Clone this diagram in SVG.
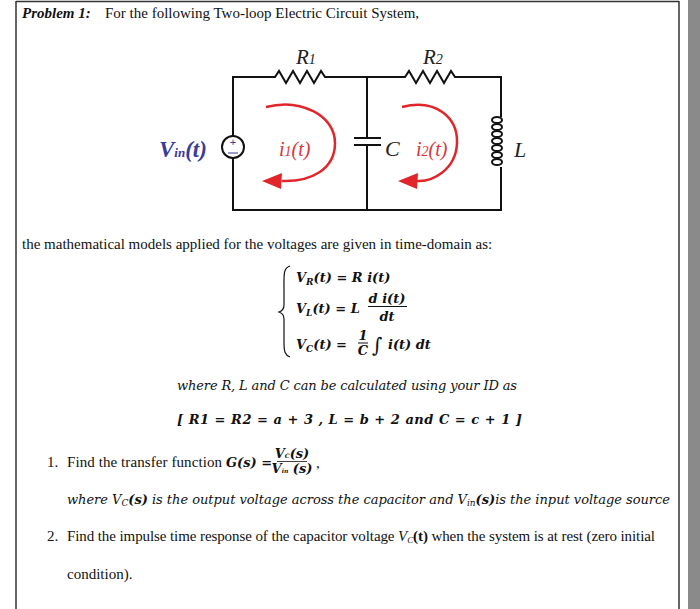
<svg xmlns="http://www.w3.org/2000/svg" width="700" height="609" viewBox="0 0 700 609">
<style>
.t{font-family:"Liberation Serif",serif;font-size:15px;fill:#111}
.m{font-family:"DejaVu Serif",serif;font-weight:bold;font-style:italic;font-size:13px;fill:#111}
.w{stroke:#111;stroke-width:2;fill:none}
.lab{font-family:"Liberation Serif",serif;font-style:italic;fill:#222}
.red{stroke:#e0262a;stroke-width:2.5;fill:none}
</style>
<rect x="0" y="0" width="700" height="609" fill="#fff"/>
<path d="M16 1.5H679M16 1V609M679 1V609" stroke="#333" stroke-width="1.5" fill="none"/>
<rect x="688" y="0" width="12" height="609" fill="#8a8a8a"/>
<text x="22" y="18" class="t" style="font-weight:bold;font-style:italic">Problem 1:</text>
<text x="105" y="18" class="t">For the following Two-loop Electric Circuit System,</text>

<g id="circuit">
<path class="w" d="M233 136V77H275l4-6 7 12 7-12 7 12 7-12 7 12 7-12 4 6H405l4-6 7 12 7-12 7 12 7-12 7 12 7-12 4 6H501V117M501 167V210H233V158M367 77V138M367 145V210M354 138H381M354 145H381"/>
<g stroke="#111" stroke-width="2" fill="none">
<ellipse cx="497" cy="120" rx="5" ry="3"/><ellipse cx="497" cy="127" rx="5" ry="3"/><ellipse cx="497" cy="134" rx="5" ry="3"/><ellipse cx="497" cy="141" rx="5" ry="3"/><ellipse cx="497" cy="148" rx="5" ry="3"/><ellipse cx="497" cy="155" rx="5" ry="3"/><ellipse cx="497" cy="162" rx="5" ry="3"/>
</g>
<circle cx="233" cy="147" r="11" fill="#fff" stroke="#111" stroke-width="2"/>
<text x="233" y="146" font-family="Liberation Sans,sans-serif" font-size="11" fill="#3a3a9a" text-anchor="middle">+</text>
<path d="M228 153H238" stroke="#3a3a9a" stroke-width="1"/>
<text x="296" y="64" class="lab" font-size="21">R<tspan font-size="14">1</tspan></text>
<text x="423" y="64" class="lab" font-size="21">R<tspan font-size="14">2</tspan></text>
<text x="159" y="157" class="lab" font-size="23" style="fill:#3a3a9a;font-weight:bold">V<tspan font-size="13">in</tspan>(t)</text>
<text x="279" y="156" class="lab" font-size="20" style="fill:#d9363a">i<tspan font-size="14">1</tspan>(t)</text>
<text x="385" y="156" class="lab" font-size="22">C</text>
<text x="416" y="156" class="lab" font-size="20" style="fill:#d9363a">i<tspan font-size="14">2</tspan>(t)</text>
<text x="514" y="157" class="lab" font-size="22">L</text>
<path class="red" d="M266 107C300 98 335 115 335 143C335 170 310 182 282 181"/>
<path d="M262 181L282 173L281 189Z" fill="#e0262a"/>
<path class="red" d="M402 107C436 98 458 118 457 143C456 170 432 182 417 181"/>
<path d="M398 181L418 173L417 189Z" fill="#e0262a"/>
</g>

<text x="22" y="249" class="t">the mathematical models applied for the voltages are given in time-domain as:</text>
<g id="equations">
<path d="M290 266C283 268 284 275 284 290V305C284 309 282 311 279 312C282 313 284 315 284 319V342C284 352 285 355 290 357" stroke="#111" stroke-width="1.2" fill="none"/>
<text x="296" y="282" class="m">V<tspan font-size="9" dy="3">R</tspan><tspan dy="-3">(t) = R i(t)</tspan></text>
<text x="296" y="313" class="m">V<tspan font-size="9" dy="3">L</tspan><tspan dy="-3">(t) = L</tspan></text>
<text x="387" y="303" class="m" text-anchor="middle">d i(t)</text>
<path d="M368 306.5H407" stroke="#111" stroke-width="1"/>
<text x="387" y="321" class="m" text-anchor="middle">dt</text>
<text x="296" y="349" class="m">V<tspan font-size="9" dy="3">C</tspan><tspan dy="-3">(t) =</tspan></text>
<text x="363" y="340" class="m" font-size="11" text-anchor="middle">1</text>
<path d="M358 343H368" stroke="#111" stroke-width="1"/>
<text x="363" y="355" class="m" font-size="11" text-anchor="middle">C</text>
<text x="372" y="352" font-family="DejaVu Serif,serif" font-size="20" fill="#111">∫</text>
<text x="388" y="349" class="m">i(t) dt</text>
</g>
<text x="177" y="390" class="m" style="font-weight:normal" textLength="340">where R, L and C can be calculated using your ID as</text>
<text x="177" y="424" class="m" textLength="345">[ R1 = R2 = a + 3   , L = b + 2   and  C = c + 1 ]</text>

<text x="47" y="467" class="t">1.</text>
<text x="67" y="467" class="t" textLength="155">Find the transfer function</text>
<text x="226" y="467" class="m">G(s) =</text>
<text x="292" y="458" class="m" font-size="9" text-anchor="middle">V<tspan font-size="6">C</tspan>(s)</text>
<path d="M277 461.5H307" stroke="#111" stroke-width="0.8"/>
<text x="292" y="473" class="m" font-size="9" text-anchor="middle">V<tspan font-size="6">in</tspan> (s)</text>
<text x="316" y="468" class="t" font-size="10">,</text>
<text x="67" y="504" class="m" style="font-weight:normal" font-size="13" textLength="603">where V<tspan font-size="9" dy="2">C</tspan><tspan dy="-2" font-weight="bold">(s)</tspan> is the output voltage across the capacitor  and V<tspan font-size="9" dy="2">in</tspan><tspan dy="-2" font-weight="bold">(s)</tspan>is the input voltage source</text>
<text x="47" y="541" class="t">2.</text>
<text x="67" y="541" class="t" textLength="588">Find the impulse time response of the capacitor voltage <tspan font-style="italic">V</tspan><tspan font-size="9" font-style="italic" dy="2">C</tspan><tspan dy="-2" font-weight="bold">(t)</tspan> when the system is at rest (zero initial</text>
<text x="67" y="579" class="t">condition).</text>
</svg>
